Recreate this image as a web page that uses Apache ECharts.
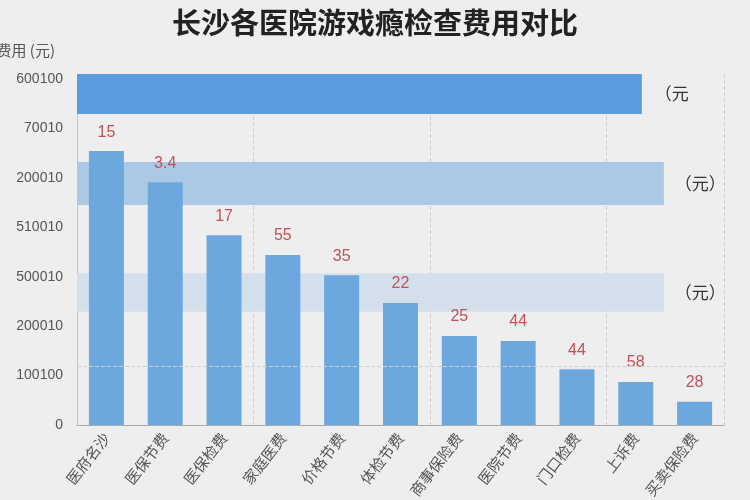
<!DOCTYPE html>
<html><head><meta charset="utf-8">
<script src="https://cdn.jsdelivr.net/npm/echarts@6/dist/echarts.min.js"></script>
<style>html,body{margin:0;padding:0;background:#eeeeee}#c{width:750px;height:500px}</style>
</head><body><div id="c"></div>
<script>
var categories = ["医府名沙","医保节费","医保检费","家庭医费","价格节费","体检节费","商事保险费","医院节费","门口检费","上诉费","买卖保险费"];
var values = [554, 491, 384, 344, 303, 247, 180, 170, 113, 87, 47];
var barLabels = ["15","3.4","17","55","35","22","25","44","44","58","28"];
var yTickLabels = ["0","100100","200010","500010","510010","200010","70010","600100"];
var bandLow = [629, 445, 229];
var bandHigh = [710, 532, 307];
var bandTexts = ["（元", "（元）", "（元）"];
var guideValue = [119];

var bandStyle = [
  {color:"#5b9be0", frac:0.873, gap:13},
  {color:"#abc8e4", frac:0.907, gap:11},
  {color:"#d3e0ec", frac:0.907, gap:11}
];

var chart = echarts.init(document.getElementById('c'));
chart.setOption({
  backgroundColor: "#eeeeee",
  animation: false,
  title: {
    text: "长沙各医院游戏瘾检查费用对比",
    left: "center", top: 3,
    textStyle: {fontSize: 29, fontWeight: "bold", color: "#222", fontFamily: "Noto Sans CJK SC"}
  },
  grid: {left: 77, right: 26, top: 74, bottom: 75, containLabel: false, outerBoundsMode: "none"},
  xAxis: {
    type: "category",
    data: categories,
    axisLine: {lineStyle: {color: "#aaaaaa"}},
    axisTick: {show: false},
    axisLabel: {rotate: 52, fontSize: 15, color: "#555", margin: 10, interval: 0, fontFamily: "Noto Sans CJK SC"},
    splitLine: {
      show: true,
      interval: function (i) { return i === 3 || i === 6 || i === 9; },
      lineStyle: {color: "#cfcfcf", type: "dashed"}
    }
  },
  yAxis: {
    type: "value",
    min: 0, max: 710, interval: 100,
    name: "费用 (元)",
    nameGap: 16,
    nameTextStyle: {align: "right", padding: [0, 22, 0, 0], fontSize: 15, color: "#555", fontFamily: "Noto Sans CJK SC"},
    axisLine: {show: true, lineStyle: {color: "#c4c4c4"}},
    axisTick: {show: false},
    axisLabel: {
      showMaxLabel: false,
      fontSize: 14, color: "#555", margin: 14,
      formatter: function (v) { var i = Math.round(v / 100); return yTickLabels[i] !== undefined ? yTickLabels[i] : ""; }
    },
    splitLine: {show: false}
  },
  series: [
    {
      type: "custom",
      z: 1,
      clip: false,
      data: bandLow.map(function (l, i) { return [0, l, bandHigh[i], i]; }),
      encode: {x: 0, y: [1, 2]},
      renderItem: function (params, api) {
        var i = api.value(3);
        var cs = params.coordSys;
        var yTop = api.coord([0, api.value(2)])[1];
        var yBot = api.coord([0, api.value(1)])[1];
        var st = bandStyle[i];
        var x1 = cs.x + cs.width * st.frac;
        return {
          type: "group",
          children: [
            {type: "rect", shape: {x: cs.x, y: yTop, width: x1 - cs.x, height: yBot - yTop}, style: {fill: st.color}},
            {type: "text", x: x1 + st.gap, y: (yTop + yBot) / 2,
             style: {text: bandTexts[i], fill: "#333", fontSize: 17, verticalAlign: "middle", fontFamily: "Noto Sans CJK SC"}}
          ]
        };
      }
    },
    {
      type: "bar",
      z: 3,
      data: values,
      barWidth: 35,
      itemStyle: {color: "#6ca7de"},
      label: {
        show: true, position: "top", distance: 11,
        fontSize: 16, color: "#c0505a",
        formatter: function (p) { return barLabels[p.dataIndex]; }
      },
      markLine: {
        silent: true, symbol: "none", label: {show: false},
        lineStyle: {color: "#d0d0d0", type: "dashed", width: 1},
        data: guideValue.map(function (v) { return {yAxis: v}; })
      }
    }
  ]
});
</script>
</body></html>
